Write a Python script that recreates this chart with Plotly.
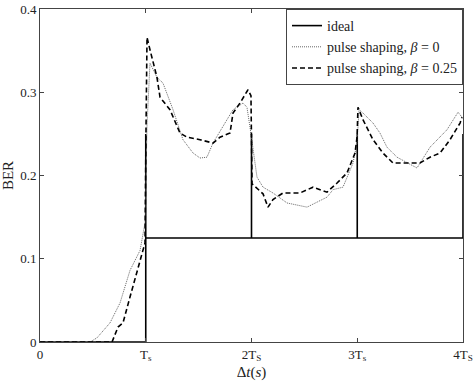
import plotly.graph_objects as go

# ideal curve (x in units of Ts)
ideal_x = [0, 1, 1, 1, 2, 2, 2, 3, 3, 3, 4, 4, 4]
ideal_y = [0, 0, 0.25, 0.125, 0.125, 0.25, 0.125, 0.125, 0.25, 0.125, 0.125, 0.25, 0.125]

# pulse shaping, beta = 0
b0_x = [0, 0.454, 0.473, 0.539, 0.662, 0.757, 0.851, 0.946, 0.993, 1.012, 1.040, 1.106, 1.163,
        1.258, 1.352, 1.447, 1.513, 1.579, 1.636, 1.768, 1.825, 1.920, 1.957, 1.986, 2.005,
        2.052, 2.109, 2.203, 2.336, 2.525, 2.714, 2.771, 2.865, 2.960, 2.998, 3.017, 3.054,
        3.149, 3.215, 3.281, 3.376, 3.565, 3.688, 3.849, 3.953, 3.991]
b0_y = [0, 0, 0.0, 0.005, 0.023, 0.047, 0.086, 0.110, 0.143, 0.26, 0.335, 0.318, 0.311,
        0.279, 0.243, 0.227, 0.221, 0.222, 0.239, 0.267, 0.279, 0.287, 0.282, 0.258, 0.239,
        0.198, 0.186, 0.179, 0.167, 0.162, 0.174, 0.183, 0.186, 0.215, 0.239, 0.279, 0.275,
        0.263, 0.251, 0.234, 0.222, 0.209, 0.234, 0.255, 0.276, 0.270]

# pulse shaping, beta = 0.25
b25_x = [0, 0.681, 0.738, 0.785, 0.851, 0.917, 0.965, 0.993, 1.002, 1.012, 1.040, 1.106, 1.135,
         1.229, 1.324, 1.390, 1.513, 1.636, 1.702, 1.797, 1.825, 1.891, 1.967, 1.995, 2.005,
         2.043, 2.109, 2.156, 2.203, 2.298, 2.459, 2.582, 2.714, 2.809, 2.903, 2.979, 2.998,
         3.007, 3.054, 3.149, 3.243, 3.338, 3.499, 3.593, 3.688, 3.783, 3.877, 3.972, 3.991]
b25_y = [0, 0, 0.018, 0.023, 0.054, 0.083, 0.107, 0.119, 0.25, 0.366, 0.351, 0.318, 0.294,
         0.279, 0.251, 0.246, 0.243, 0.239, 0.246, 0.251, 0.275, 0.287, 0.303, 0.296, 0.190,
         0.186, 0.178, 0.162, 0.171, 0.179, 0.179, 0.186, 0.180, 0.191, 0.203, 0.227, 0.246,
         0.282, 0.267, 0.243, 0.227, 0.215, 0.215, 0.215, 0.222, 0.227, 0.243, 0.263, 0.270]

x_tickvals = [0, 1, 2, 3, 4]
x_ticktext = ["0", "T<sub>s</sub>", "2T<sub>S</sub>", "3T<sub>s</sub>", "4T<sub>S</sub>"]
y_tickvals = [0, 0.1, 0.2, 0.3, 0.4]
y_ticktext = ["0", "0.1", "0.2", "0.3", "0.4"]

fig = go.Figure()
fig.add_trace(go.Scatter(x=ideal_x, y=ideal_y, mode="lines", name="ideal",
                         line=dict(color="black", width=1.6)))
fig.add_trace(go.Scatter(x=b0_x, y=b0_y, mode="lines", name="pulse shaping, <i>β</i> = 0",
                         line=dict(color="#666666", width=1, dash="1px,1px")))
fig.add_trace(go.Scatter(x=b25_x, y=b25_y, mode="lines", name="pulse shaping, <i>β</i> = 0.25",
                         line=dict(color="black", width=1.6, dash="5px,3px")))

axis_common = dict(showgrid=False, zeroline=False, showline=True, linecolor="#444444",
                   linewidth=1, mirror="ticks", ticks="inside", ticklen=4, automargin=False,
                   tickcolor="#444444", tickfont=dict(size=13, color="#222222"))

fig.update_layout(
    width=474, height=384,
    margin=dict(l=40, r=11, t=9, b=42),
    paper_bgcolor="white", plot_bgcolor="white",
    font=dict(family="Liberation Serif", size=13, color="#222222"),
    showlegend=True,
    legend=dict(x=1, y=1, xanchor="right", yanchor="top",
                bgcolor="white", bordercolor="#444444", borderwidth=1,
                font=dict(size=14), tracegroupgap=0,
                itemwidth=30),
    xaxis=dict(range=[0, 4], tickvals=x_tickvals, ticktext=x_ticktext,
               title=dict(text="Δ<i>t</i>(<i>s</i>)", standoff=4, font=dict(size=15)),
               **axis_common),
    yaxis=dict(range=[0, 0.4], tickvals=y_tickvals, ticktext=y_ticktext,
               title=dict(text="BER", standoff=6, font=dict(size=15)),
               **axis_common),
)

fig.write_html("out.html")
